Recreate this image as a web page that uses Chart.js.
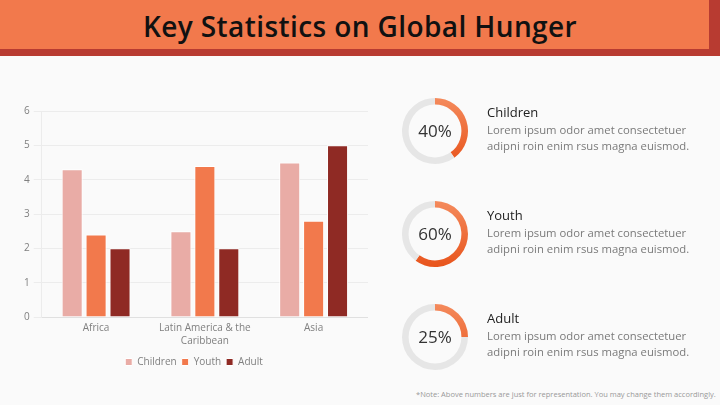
<!DOCTYPE html>
<html><head><meta charset="utf-8">
<script src="https://cdn.jsdelivr.net/npm/chart.js@4"></script>
<style>
body{margin:0;width:720px;height:405px;background:#fafafa;position:relative;overflow:hidden;font-family:"Open Sans",sans-serif;}
#hdrShadow{position:absolute;left:0;top:0;width:720px;height:56px;background:#b83b31;}
#hdr{position:absolute;left:0;top:0;width:709px;height:49px;background:#f2794c;}
#title{position:absolute;left:0;top:0;width:720px;height:52px;line-height:52px;text-align:center;font-size:28px;font-weight:600;color:#111;font-family:"Open Sans",sans-serif;letter-spacing:0.4px;}
#barWrap{position:absolute;left:20px;top:95px;width:348px;height:282px;}
.donut{position:absolute;width:76px;height:76px;}
.pct{position:absolute;width:76px;text-align:center;font-size:17px;color:#333;font-family:"Open Sans",sans-serif;}
.head{position:absolute;left:487px;font-size:13px;color:#222;}
.desc{position:absolute;left:487px;font-size:11.3px;color:#7a7a7a;line-height:16px;width:212px;}
#note{position:absolute;left:416px;top:389px;font-size:7.5px;color:#999;white-space:nowrap;}
</style></head><body>
<div id="hdrShadow"></div><div id="hdr"></div>
<div id="title">Key Statistics on Global Hunger</div>
<div id="barWrap"><canvas id="bar"></canvas></div>
<div id="donuts"></div>
<div id="note">*Note: Above numbers are just for representation. You may change them accordingly.</div>
<script>
const categories = [["Africa"], ["Latin America & the", "Caribbean"], ["Asia"]];
const seriesNames = ["Children", "Youth", "Adult"];
const children = [4.3, 2.5, 4.5];
const youth = [2.4, 4.4, 2.8];
const adult = [2.0, 2.0, 5.0];
const yTicks = [0, 1, 2, 3, 4, 5, 6];
const donutLabels = ["Children", "Youth", "Adult"];
const donutPercents = [40, 60, 25];
const donutText = "Lorem ipsum odor amet consectetuer adipni roin enim rsus magna euismod.";

const colors = ["#e9aca6", "#f2794c", "#8f2a24"];
const seriesValues = [children, youth, adult];

new Chart(document.getElementById('bar'), {
  type: 'bar',
  data: {
    labels: categories,
    datasets: seriesNames.map((n, i) => ({
      label: n, data: seriesValues[i], backgroundColor: colors[i],
      borderColor: '#ffffff', borderWidth: 1,
      categoryPercentage: 0.66, barPercentage: 0.88
    }))
  },
  options: {
    responsive: true, maintainAspectRatio: false, animation: false,
    layout: {padding: {top: 16, right: 0, bottom: 0}},
    plugins: {
      legend: {position: 'bottom', labels: {boxWidth: 7, boxHeight: 7, color: '#7f7f7f', font: {size: 10, family: 'Open Sans'}, padding: 5}},
      tooltip: {enabled: false}
    },
    scales: {
      x: {grid: {display: false}, border: {color: '#e0e0e0'},
          afterFit: s => { s.height += 8; },
          ticks: {color: '#7f7f7f', font: {size: 10, family: 'Open Sans', lineHeight: 1.25}, maxRotation: 0, padding: -3}},
      y: {min: 0, max: 6, afterBuildTicks: ax => { ax.ticks = yTicks.map(v => ({value: v})); },
          grid: {color: '#ececec'}, border: {display: true, color: '#ececec'},
          ticks: {color: '#7f7f7f', font: {size: 10, family: 'Open Sans'}, padding: 4}}
    }
  }
});

const centersY = [131, 234, 337];
const cx = 435;
const cont = document.getElementById('donuts');
donutPercents.forEach((p, i) => {
  const d = document.createElement('div');
  d.className = 'donut';
  d.style.left = (cx - 38) + 'px'; d.style.top = (centersY[i] - 38) + 'px';
  const c = document.createElement('canvas'); d.appendChild(c); cont.appendChild(d);
  const pct = document.createElement('div'); pct.className = 'pct';
  pct.style.left = (cx - 38) + 'px'; pct.style.top = (centersY[i] - 12) + 'px';
  pct.textContent = p + '%'; cont.appendChild(pct);
  const h = document.createElement('div'); h.className = 'head';
  h.style.top = (centersY[i] - 28) + 'px'; h.textContent = donutLabels[i]; cont.appendChild(h);
  const ds = document.createElement('div'); ds.className = 'desc';
  ds.style.top = (centersY[i] - 9) + 'px'; ds.textContent = donutText; cont.appendChild(ds);
  new Chart(c, {
    type: 'doughnut',
    data: {labels: ['value', 'rest'], datasets: [{
      data: [p, 100 - p],
      backgroundColor: ctx => {
        if (ctx.dataIndex === 1) return '#e6e6e6';
        const ch = ctx.chart, a = ch.chartArea;
        if (!a) return '#f2794c';
        const g = ch.ctx.createLinearGradient(0, a.top, 0, a.bottom);
        g.addColorStop(0, '#f48a5c'); g.addColorStop(1, '#e8541c');
        return g;
      },
      borderWidth: 0
    }]},
    options: {responsive: true, maintainAspectRatio: false, animation: false, cutout: '80%',
      layout: {padding: 5},
      plugins: {legend: {display: false}, tooltip: {enabled: false}}}
  });
});
</script>
</body></html>
